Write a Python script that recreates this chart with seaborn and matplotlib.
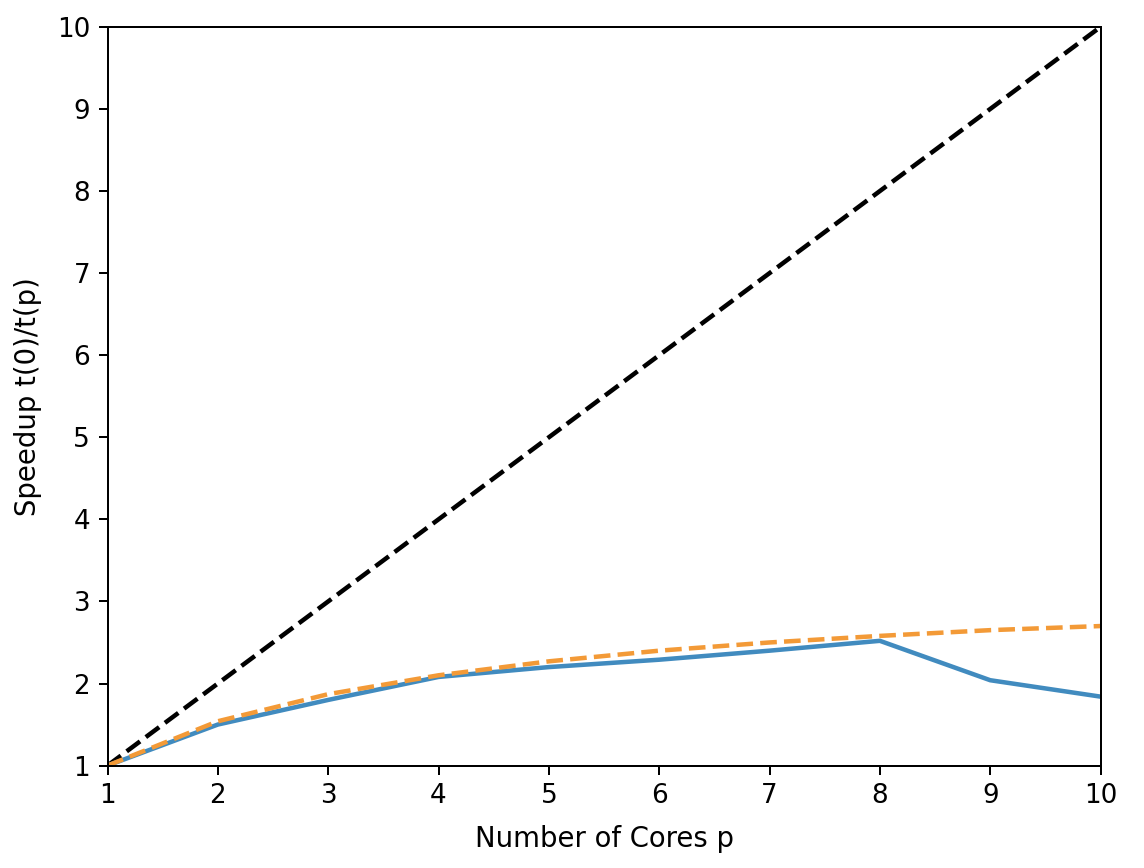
import seaborn as sns
import matplotlib.pyplot as plt
import pandas as pd

cores = [1, 2, 3, 4, 5, 6, 7, 8, 9, 10]
measured = [1.0, 1.5, 1.8, 2.08, 2.2, 2.29, 2.4, 2.52, 2.04, 1.84]
amdahl = [1.0, 1.54, 1.87, 2.1, 2.27, 2.4, 2.5, 2.58, 2.65, 2.70]
ideal = [1, 2, 3, 4, 5, 6, 7, 8, 9, 10]

df = pd.DataFrame({"p": cores, "measured": measured, "amdahl": amdahl, "ideal": ideal})

sns.set_style("ticks", rc={
    "axes.edgecolor": "black", "text.color": "black", "axes.labelcolor": "black",
    "xtick.color": "black", "ytick.color": "black",
    "xtick.major.size": 3.5, "ytick.major.size": 3.5,
    "xtick.major.width": 0.8, "ytick.major.width": 0.8, "axes.linewidth": 0.8,
})
plt.rcParams['font.family'] = 'DejaVu Sans'

fig, ax = plt.subplots(figsize=(1144/180, 868/180), dpi=180)
sns.lineplot(data=df, x="p", y="ideal", color="black", linestyle="--", lw=1.8, ax=ax)
sns.lineplot(data=df, x="p", y="measured", color="#418bbf", lw=1.8, ax=ax)
sns.lineplot(data=df, x="p", y="amdahl", color="#f39a37", linestyle="--", lw=1.8, ax=ax)

ax.set_xlim(1, 10)
ax.set_ylim(1, 10)
ax.set_xticks(range(1, 11))
ax.set_yticks(range(1, 11))
ax.tick_params(labelsize=10.5)
ax.set_xlabel("Number of Cores p", fontsize=11, labelpad=6.5)
ax.set_ylabel("Speedup t(0)/t(p)", fontsize=11, labelpad=6)
for s in ax.spines.values():
    s.set_visible(True)

fig.subplots_adjust(left=0.094, right=0.962, top=0.969, bottom=0.118)
fig.savefig("out.png", dpi=180)
